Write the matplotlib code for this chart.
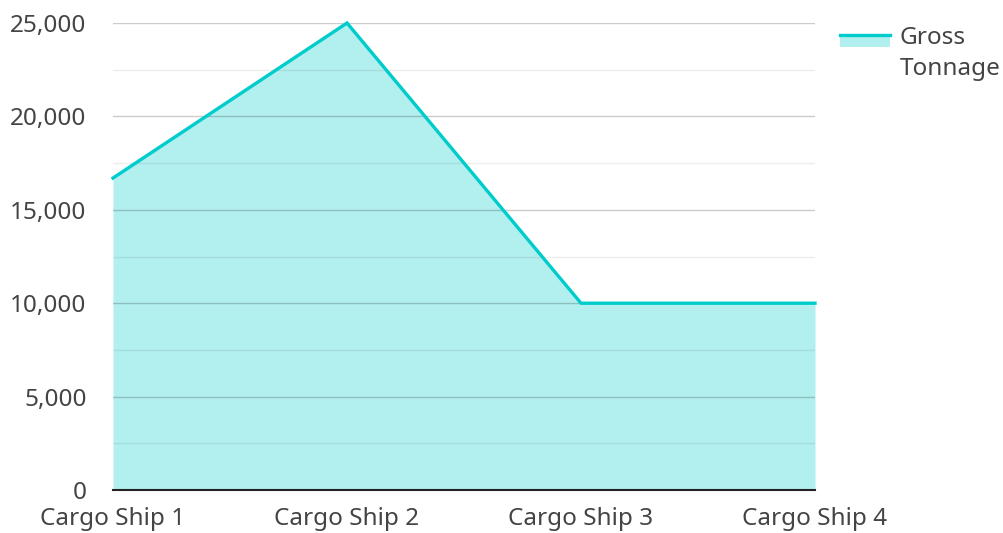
import matplotlib

matplotlib.use("Agg")
import matplotlib.pyplot as plt
from matplotlib.lines import Line2D
from matplotlib.patches import Rectangle
from matplotlib.ticker import FuncFormatter, MultipleLocator

ships = ["Cargo Ship 1", "Cargo Ship 2", "Cargo Ship 3", "Cargo Ship 4"]
gross_tonnage = [16700, 25000, 10000, 10000]
legend_lines = ["Gross", "Tonnage"]

line_color = "#00cccc"
fill_color = "#b2efef"
text_color = "#444444"

plt.rcParams["font.family"] = ["Noto Sans", "DejaVu Sans"]

fig = plt.figure(figsize=(10.04, 5.33), dpi=100)
ax = fig.add_axes([113 / 1004, 1 - 490 / 533, (815 - 113) / 1004, (490 - 23) / 533])

x = list(range(len(ships)))
ax.fill_between(x, gross_tonnage, 0, color=fill_color, linewidth=0, zorder=1)
ax.plot(x, gross_tonnage, color=line_color, linewidth=2.4, zorder=4,
        solid_joinstyle="miter", clip_on=False)

ax.set_xlim(0, len(ships) - 1)
ax.set_ylim(0, 25000)
ax.set_xticks(x)
ax.set_xticklabels(ships)
ax.yaxis.set_major_locator(MultipleLocator(5000))
ax.yaxis.set_minor_locator(MultipleLocator(2500))
ax.yaxis.set_major_formatter(FuncFormatter(lambda v, p: f"{int(v):,}"))

ax.set_axisbelow(False)
ax.grid(True, axis="y", which="major", color="#000000", alpha=0.2, linewidth=1, zorder=2)
ax.grid(True, axis="y", which="minor", color="#000000", alpha=0.07, linewidth=1, zorder=2)

for side in ["top", "right", "left"]:
    ax.spines[side].set_visible(False)
ax.spines["bottom"].set_color("#222222")
ax.spines["bottom"].set_linewidth(1.5)
ax.spines["bottom"].set_zorder(5)

ax.tick_params(axis="both", which="both", length=0, labelsize=17.5, labelcolor=text_color)
ax.tick_params(axis="y", pad=19)
ax.tick_params(axis="x", pad=12)

# legend drawn by hand: line on top of a filled strip
W, H = 1004, 533
fig.add_artist(Rectangle((840 / W, 1 - 47 / H), 50 / W, 12 / H, transform=fig.transFigure,
                         facecolor=fill_color, edgecolor="none"))
fig.add_artist(Line2D([840 / W, 890 / W], [1 - 35 / H, 1 - 35 / H], transform=fig.transFigure,
                      color=line_color, linewidth=2.4))
for i, word in enumerate(legend_lines):
    fig.text(900 / W, 1 - (38 + 31 * i) / H, word, fontsize=17.5, color=text_color,
             va="center", ha="left")

fig.savefig("out.png", dpi=100)
